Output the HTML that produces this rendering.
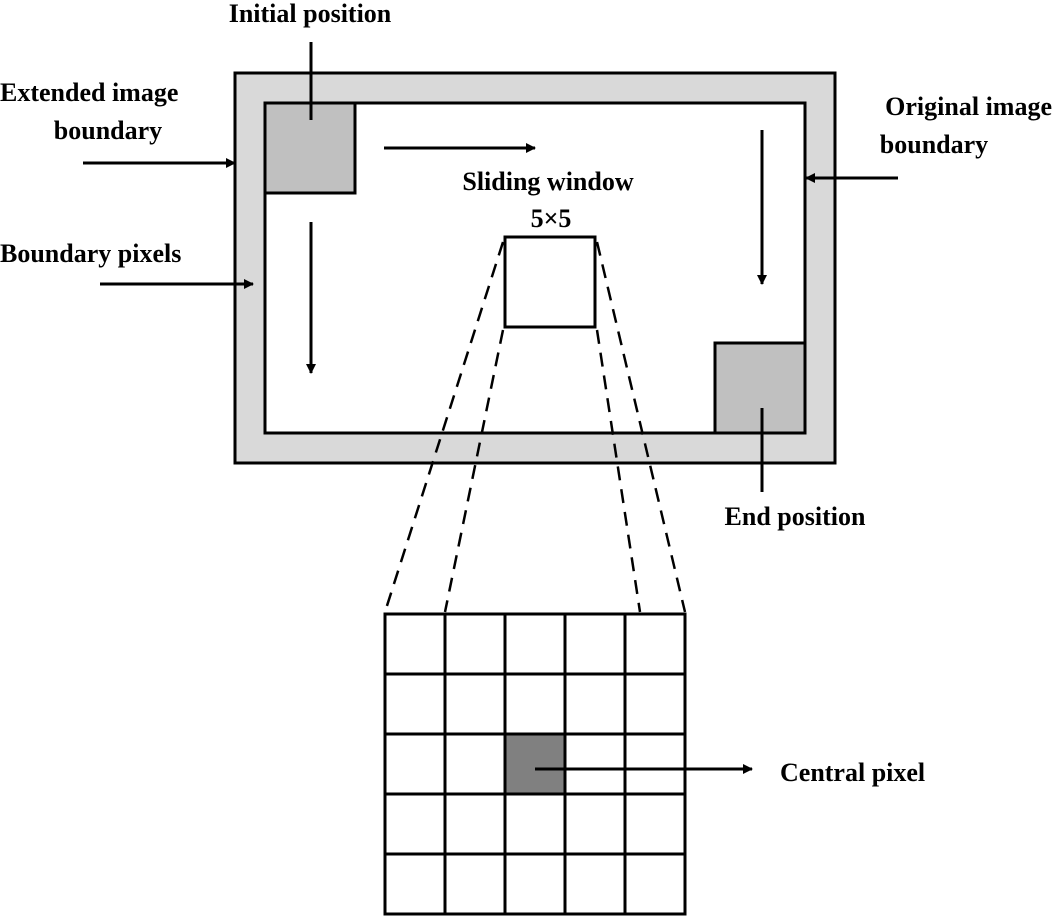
<!DOCTYPE html>
<html><head><style>body{margin:0;background:#fff}</style></head><body>
<svg width="1052" height="916" xmlns="http://www.w3.org/2000/svg" font-family="Liberation Serif, serif" font-weight="bold" font-size="26">
<defs><marker id="a" markerWidth="10" markerHeight="10" refX="9" refY="5" orient="auto" markerUnits="userSpaceOnUse"><path d="M0,0 L10,5 L0,10 z" fill="#000"/></marker></defs>
<rect x="235" y="73" width="600" height="390" fill="#d9d9d9" stroke="#000" stroke-width="3"/>
<rect x="265" y="103" width="540" height="330" fill="#fff" stroke="#000" stroke-width="3"/>
<rect x="265" y="103" width="90" height="90" fill="#c0c0c0" stroke="#000" stroke-width="3"/>
<rect x="715" y="343" width="90" height="90" fill="#c0c0c0" stroke="#000" stroke-width="3"/>
<rect x="505" y="237" width="90" height="90" fill="#fff" stroke="#000" stroke-width="3"/>
<g stroke="#000" stroke-width="2.5" fill="none" stroke-dasharray="14,9">
<line x1="503" y1="242" x2="385" y2="612"/>
<line x1="503" y1="330" x2="445" y2="612"/>
<line x1="597" y1="330" x2="640" y2="612"/>
<line x1="597" y1="242" x2="685" y2="612"/>
</g>
<g stroke="#000" stroke-width="3">
<line x1="311" y1="42" x2="311" y2="120"/>
<line x1="762" y1="408" x2="762" y2="492"/>
<line x1="384" y1="148" x2="535" y2="148" marker-end="url(#a)"/>
<line x1="311" y1="222" x2="311" y2="373" marker-end="url(#a)"/>
<line x1="762" y1="130" x2="762" y2="284" marker-end="url(#a)"/>
<line x1="83" y1="163" x2="235" y2="163" marker-end="url(#a)"/>
<line x1="100" y1="284" x2="253" y2="284" marker-end="url(#a)"/>
<line x1="898" y1="178" x2="806" y2="178" marker-end="url(#a)"/>
<line x1="535" y1="769" x2="752" y2="769" marker-end="url(#a)"/>
</g>
<rect x="505" y="734" width="60" height="60" fill="#808080"/>
<g stroke="#000" stroke-width="3" fill="none">
<rect x="385" y="614" width="300" height="300"/>
<line x1="445" y1="614" x2="445" y2="914"/><line x1="505" y1="614" x2="505" y2="914"/>
<line x1="565" y1="614" x2="565" y2="914"/><line x1="625" y1="614" x2="625" y2="914"/>
<line x1="385" y1="674" x2="685" y2="674"/><line x1="385" y1="734" x2="685" y2="734"/>
<line x1="385" y1="794" x2="685" y2="794"/><line x1="385" y1="854" x2="685" y2="854"/>
</g>
<line x1="535" y1="769" x2="565" y2="769" stroke="#000" stroke-width="3"/>
<text x="310" y="22" text-anchor="middle">Initial position</text>
<text x="0" y="101">Extended image</text>
<text x="108" y="139" text-anchor="middle">boundary</text>
<text x="0" y="262">Boundary pixels</text>
<text x="1052" y="115" text-anchor="end">Original image</text>
<text x="934" y="153" text-anchor="middle">boundary</text>
<text x="548" y="190" text-anchor="middle">Sliding window</text>
<text x="551" y="227" text-anchor="middle">5×5</text>
<text x="795" y="525" text-anchor="middle">End position</text>
<text x="780" y="781">Central pixel</text>
</svg>
</body></html>
